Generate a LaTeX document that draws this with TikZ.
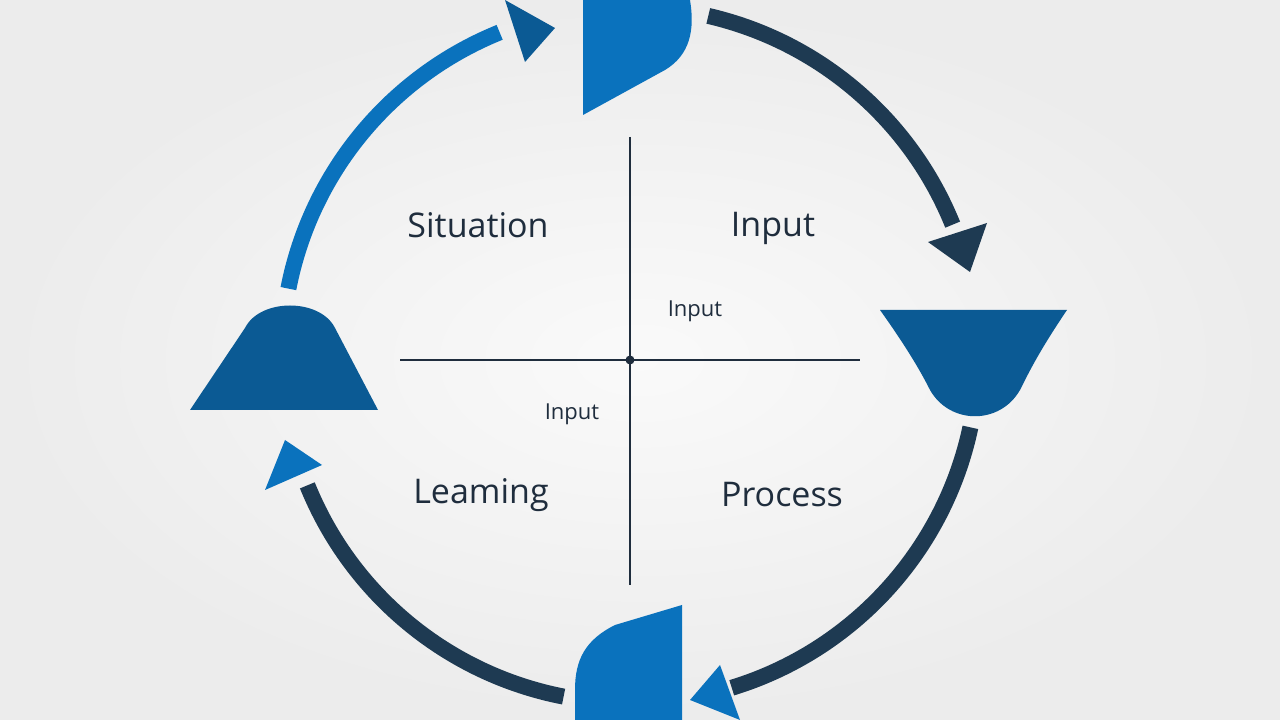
\documentclass[tikz,border=0pt]{standalone}
\usepackage{fontspec}
\setmainfont{Open Sans}
\begin{document}
\begin{tikzpicture}[x=1pt,y=1pt,
  arcL/.style={line width=16pt},
  txt/.style={text=textc,font=\fontsize{34}{40}\selectfont},
  stxt/.style={text=textc,font=\fontsize{22}{26}\selectfont},
  axis/.style={draw=textc,line width=1.2pt}]
\definecolor{blueA}{HTML}{0A72BD}
\definecolor{blueB}{HTML}{0B5A94}
\definecolor{dark}{HTML}{1E3A52}
\definecolor{textc}{HTML}{1F2D3D}
\useasboundingbox (0,0) rectangle (1280,720);
\shade[inner color=white!96!gray, outer color=white!85!gray] (0,0) rectangle (1280,720);
\coordinate (c) at (630,365);
% arcs
\draw[arcL,blueA] (c) ++(169:348) arc[start angle=169,end angle=112,radius=348];
\draw[arcL,dark] (c) ++(77:348) arc[start angle=77,end angle=22,radius=348];
\draw[arcL,dark] (c) ++(-12:348) arc[start angle=-12,end angle=-73,radius=348];
\draw[arcL,dark] (c) ++(-101:348) arc[start angle=-101,end angle=-158,radius=348];
% arrowheads
\fill[blueB] (505,720)--(555,692)--(525,658)--cycle;
\fill[dark] (928,478)--(987,497)--(970,448)--cycle;
\fill[blueA] (690,20)--(720,55)--(740,0)--cycle;
\fill[blueA] (265,230)--(285,280)--(322,255)--cycle;
% shapes
\fill[blueA] (583,720)--(690,720) .. controls (695,690) and (690,665) .. (665,650) -- (583,605) -- cycle;
\fill[blueA] (682,115)--(682,0)--(575,0)--(575,30) .. controls (575,60) and (585,80) .. (615,95) -- cycle;
\fill[blueB] (880,410)--(1067,410) .. controls (1040,370) and (1030,350) .. (1020,330) .. controls (1000,295) and (950,295) .. (930,330) .. controls (920,350) and (905,375) .. cycle;
\fill[blueB] (190,310)--(378,310)--(335,392) .. controls (320,422) and (260,422) .. (245,392) -- cycle;
% axes
\draw[axis] (630,583) -- (630,135);
\draw[axis] (400,360) -- (860,360);
\fill[textc] (630,360) circle (4.5);
% texts
\node[txt] (s) at (478,495) {Situation};
\node[txt] (i) at (773,492) {Input};
\node[txt] (l) at (481,225) {Leaming};
\node[txt] (p) at (782,225) {Process};
\node[stxt] (i2) at (695,409) {Input};
\node[stxt] (i3) at (572,306) {Input};
\end{tikzpicture}
\end{document}
